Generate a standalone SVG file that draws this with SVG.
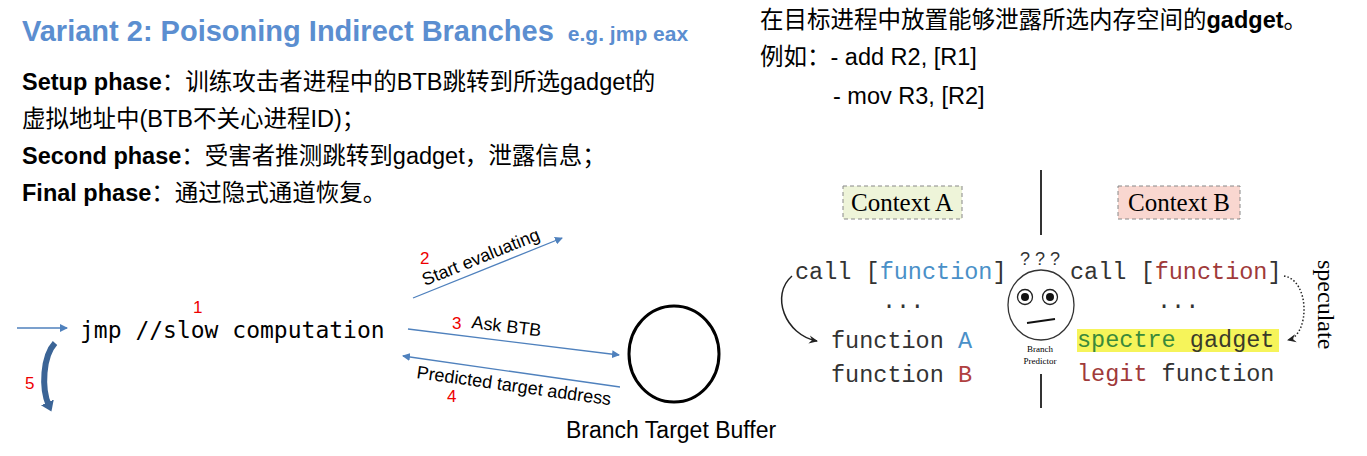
<svg xmlns="http://www.w3.org/2000/svg" width="1367" height="456" viewBox="0 0 1367 456">
<style>
.cn{font-family:"Liberation Sans","Noto Sans CJK SC",sans-serif;font-size:23.5px;fill:#000}
.b{font-weight:bold}
.red{font-family:"Liberation Sans",sans-serif;font-size:17px;fill:#e00}
.lbl{font-family:"Liberation Sans",sans-serif;font-size:18px;fill:#000}
.mono{font-family:"Liberation Mono",monospace;font-size:23.5px}
.ser{font-family:"Liberation Serif",serif}
.ar{stroke:#4f81bd;stroke-width:1.3;fill:none;marker-end:url(#ba)}
</style>
<defs>
<marker id="ba" markerWidth="8" markerHeight="8" refX="7" refY="4" orient="auto" markerUnits="userSpaceOnUse"><path d="M0,0 L8,4 L0,8 z" fill="#4f81bd"/></marker>
<marker id="ka" markerWidth="10" markerHeight="10" refX="8" refY="5" orient="auto" markerUnits="userSpaceOnUse"><path d="M0,1 L9,5 L0,9 L3,5 z" fill="#222"/></marker>
<marker id="fat" markerWidth="14" markerHeight="14" refX="4" refY="7" orient="auto" markerUnits="userSpaceOnUse"><path d="M0,0 L10,7 L0,14 z" fill="#3b6496"/></marker>
</defs>
<rect width="1367" height="456" fill="#fff"/>
<text x="22" y="41" font-family="Liberation Sans,sans-serif" font-size="29" font-weight="bold" fill="#5b8ed0">Variant 2: Poisoning Indirect Branches <tspan font-size="21" dx="6">e.g. jmp eax</tspan></text>
<text class="cn" x="22" y="90"><tspan class="b">Setup phase</tspan>：训练攻击者进程中的BTB跳转到所选gadget的</text>
<text class="cn" x="22" y="127">虚拟地址中(BTB不关心进程ID)；</text>
<text class="cn" x="22" y="164"><tspan class="b">Second phase</tspan>：受害者推测跳转到gadget，泄露信息；</text>
<text class="cn" x="22" y="201"><tspan class="b">Final phase</tspan>：通过隐式通道恢复。</text>
<text class="cn" x="760" y="28">在目标进程中放置能够泄露所选内存空间的<tspan class="b">gadget</tspan>。</text>
<text class="cn" x="760" y="65">例如：- add R2, [R1]</text>
<text class="cn" x="833" y="104">- mov R3, [R2]</text>

<g id="jmp"><text x="80" y="338" font-family="DejaVu Sans Mono,monospace" font-size="23">jmp //slow computation</text><text class="red" x="193" y="313">1</text></g>
<g id="btb"><ellipse cx="674" cy="354" rx="45" ry="48" fill="none" stroke="#000" stroke-width="3"/><text x="566" y="438" font-family="Liberation Sans,sans-serif" font-size="23">Branch Target Buffer</text></g>
<g id="connectors">
<line class="ar" x1="17" y1="328" x2="67" y2="328"/>
<line class="ar" x1="413" y1="298" x2="562" y2="238"/>
<line class="ar" x1="408" y1="329" x2="619" y2="355"/>
<line class="ar" x1="620" y1="387" x2="403" y2="356"/>
<path d="M55,343 C43,356 41,388 49,406" fill="none" stroke="#3b6496" stroke-width="6" marker-end="url(#fat)"/>
<text class="red" x="420" y="264">2</text>
<text class="lbl" transform="translate(425,286) rotate(-22)">Start evaluating</text>
<text class="red" x="452" y="329">3</text>
<text class="lbl" transform="translate(471,328) rotate(7)">Ask BTB</text>
<text class="lbl" transform="translate(416,378) rotate(8)">Predicted target address</text>
<text class="red" x="447" y="402">4</text>
<text class="red" x="25" y="389">5</text>
</g>

<g id="ctx">
<line x1="1041" y1="170" x2="1041" y2="235" stroke="#333" stroke-width="2"/>
<line x1="1041" y1="374" x2="1041" y2="408" stroke="#333" stroke-width="2"/>
<rect x="843" y="186" width="119" height="33" fill="#eef4d9" stroke="#888" stroke-dasharray="4,3"/>
<text class="ser" x="902" y="211" font-size="25" text-anchor="middle">Context A</text>
<rect x="1118" y="186" width="122" height="33" fill="#f9d7d0" stroke="#888" stroke-dasharray="4,3"/>
<text class="ser" x="1179" y="211" font-size="25" text-anchor="middle">Context B</text>
</g>
<g id="codeA" class="mono">
<text x="795" y="279" fill="#333">call [<tspan fill="#4a90c8">function</tspan>]</text>
<text x="882" y="308" fill="#333">...</text>
<text x="831" y="348" fill="#333">function <tspan fill="#4a90c8">A</tspan></text>
<text x="831" y="382" fill="#333">function <tspan fill="#b04040">B</tspan></text>
</g>
<g id="codeB" class="mono">
<text x="1070" y="279" fill="#333">call [<tspan fill="#a03a3a">function</tspan>]</text>
<text x="1157" y="308" fill="#333">...</text>
<rect x="1077" y="329" width="202" height="23" fill="#f6f45a"/>
<text x="1077" y="347" fill="#3a3a2a"><tspan fill="#3a8a3a">spectre</tspan> gadget</text>
<text x="1077" y="381" fill="#333"><tspan fill="#a03a3a">legit</tspan> function</text>
</g>
<g id="predictor">
<text x="1040" y="265" font-family="Liberation Sans,sans-serif" font-size="18" text-anchor="middle" fill="#333">? ? ?</text>
<ellipse cx="1041" cy="305" rx="33" ry="35" fill="#fff" stroke="#333" stroke-width="1.3"/>
<circle cx="1025" cy="297" r="7.5" fill="#fff" stroke="#222" stroke-width="1.3"/><circle cx="1025" cy="297" r="4" fill="#111"/>
<circle cx="1050" cy="297" r="7.5" fill="#fff" stroke="#222" stroke-width="1.3"/><circle cx="1050" cy="297" r="4" fill="#111"/>
<line x1="1027" y1="323" x2="1055" y2="319" stroke="#111" stroke-width="2"/>
<text class="ser" x="1040" y="352" font-size="9" text-anchor="middle">Branch</text>
<text class="ser" x="1040" y="364" font-size="9" text-anchor="middle">Predictor</text>
</g>
<g id="arrowsR">
<path d="M792,276 C770,295 785,335 817,341" fill="none" stroke="#222" stroke-width="1.5" marker-end="url(#ka)"/>
<path d="M1284,276 C1310,280 1310,335 1288,340" fill="none" stroke="#222" stroke-width="1.5" stroke-dasharray="1.5,2" marker-end="url(#ka)"/>
<text class="ser" transform="translate(1318,260) rotate(90)" font-size="24">speculate</text>
</g>
</svg>
